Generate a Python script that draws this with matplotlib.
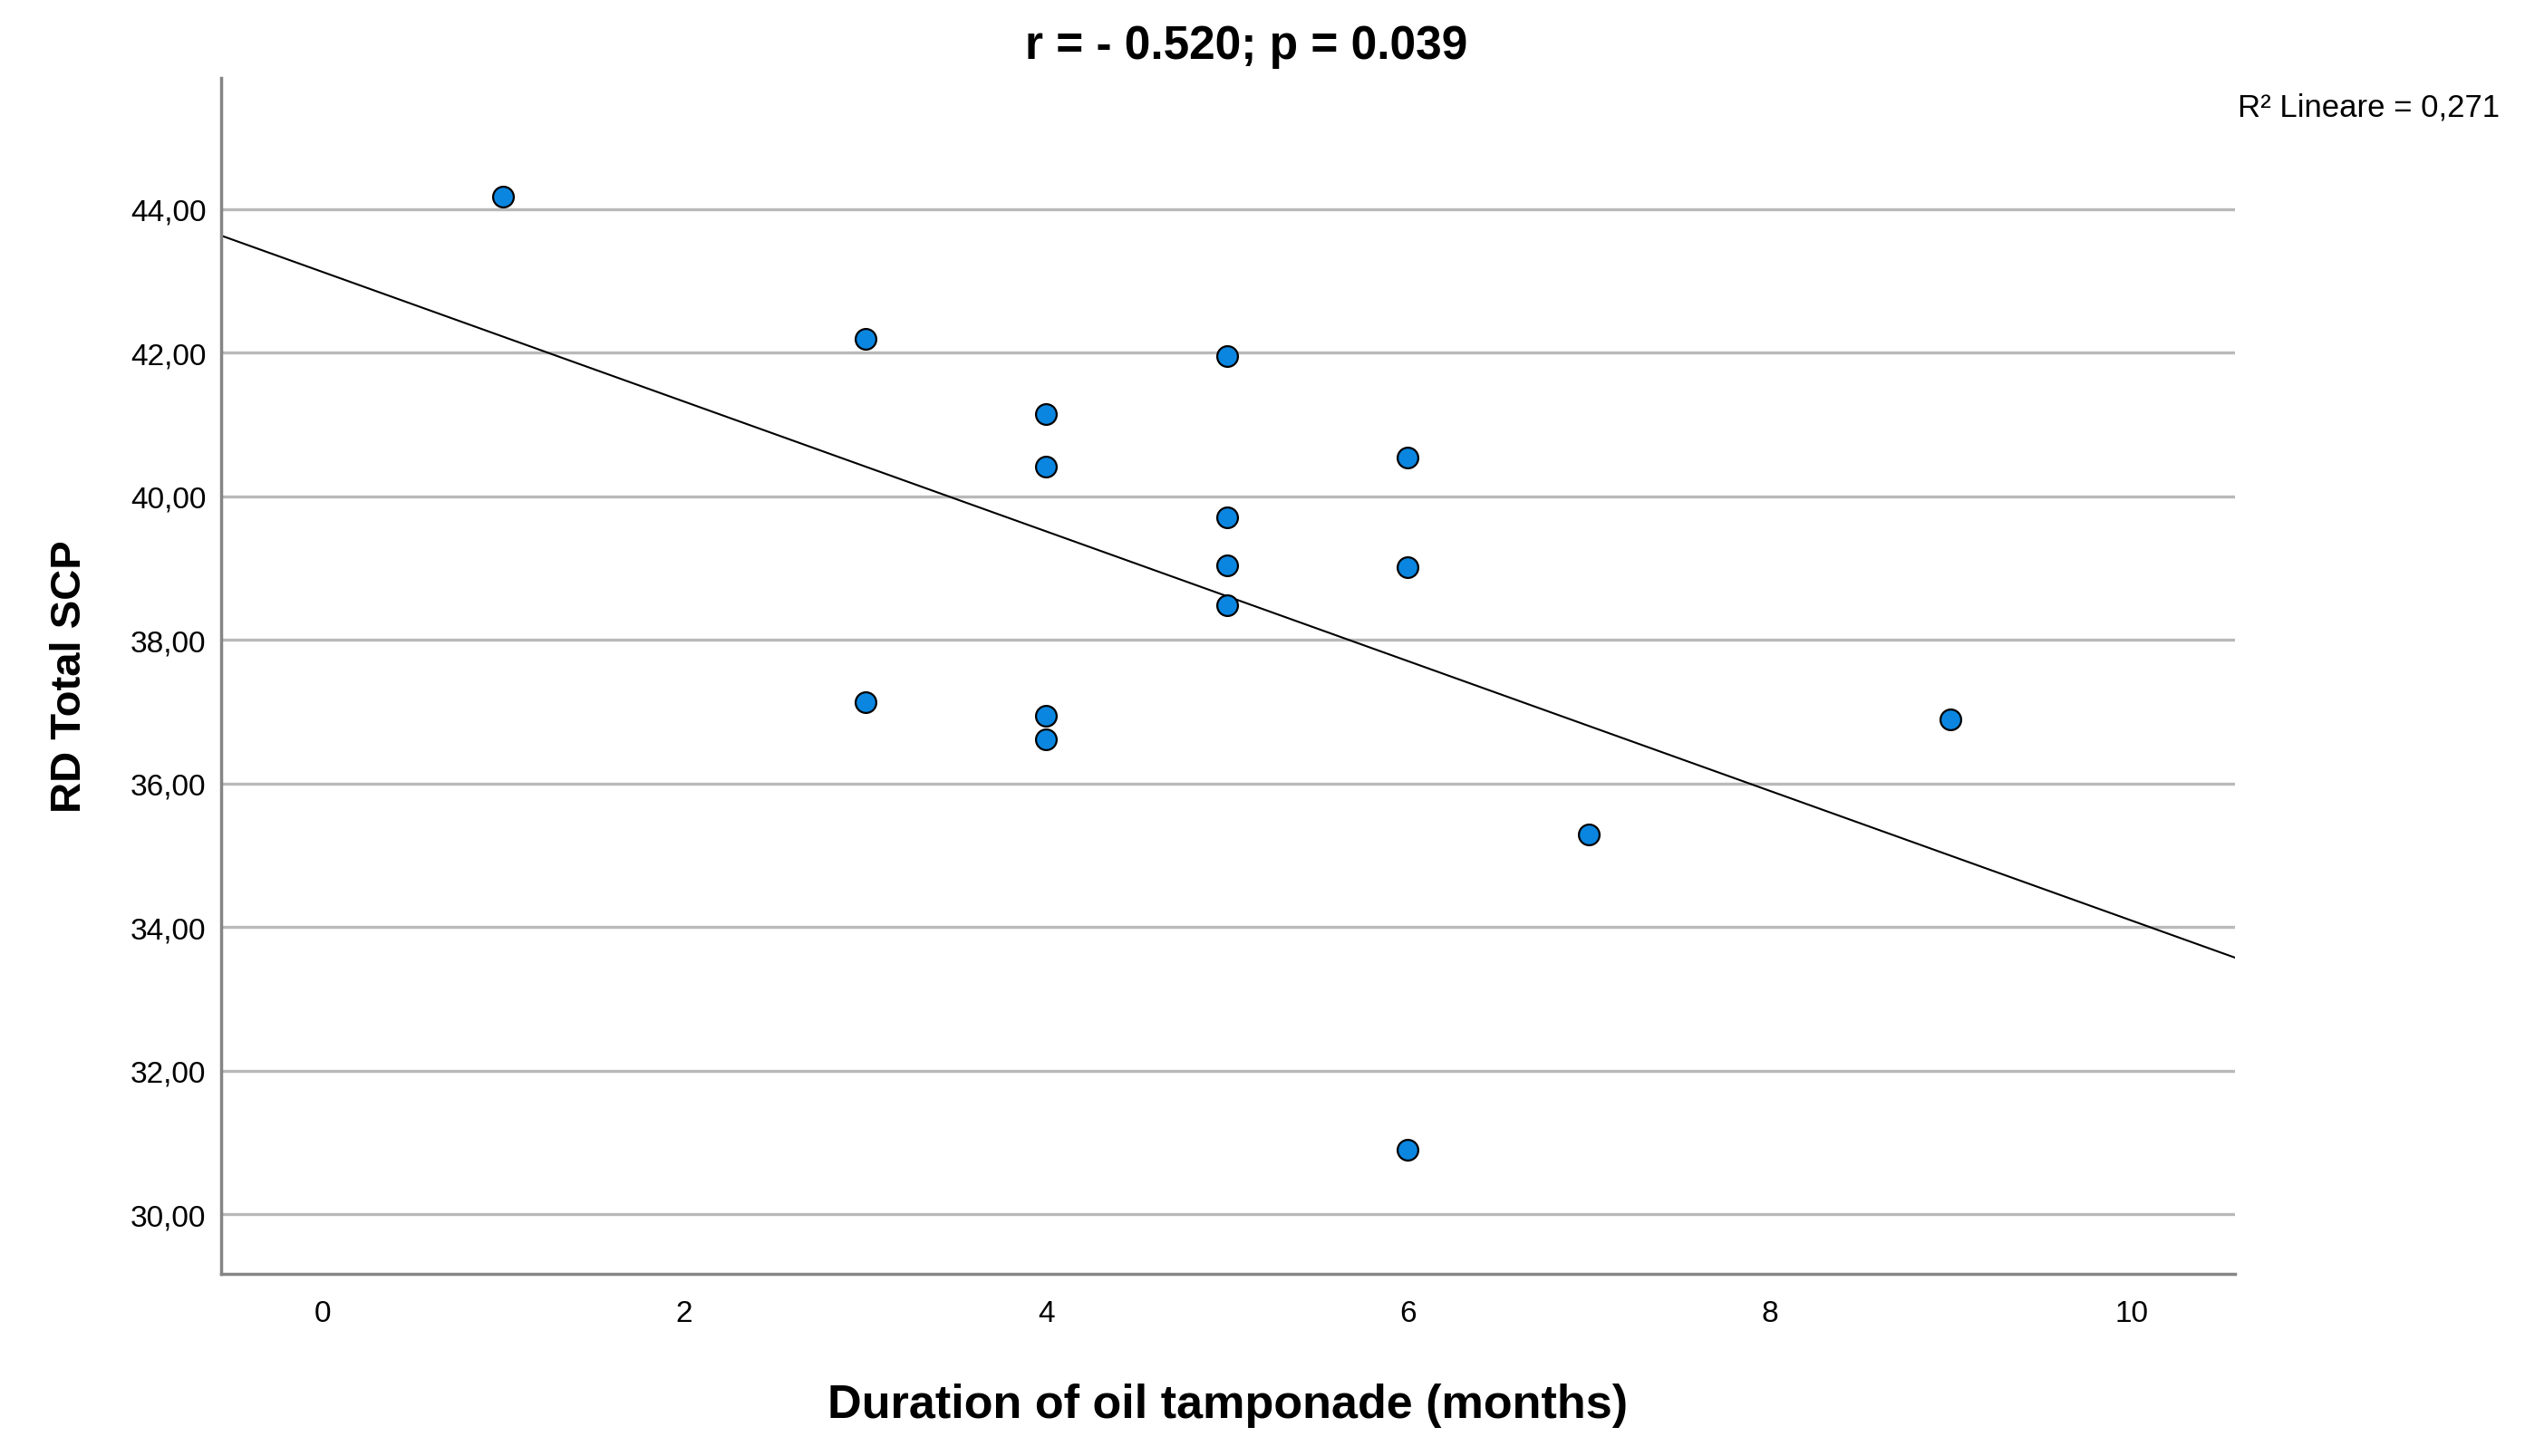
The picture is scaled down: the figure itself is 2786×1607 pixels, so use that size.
import numpy as np
import matplotlib
matplotlib.use("Agg")
from matplotlib import pyplot as plt
from matplotlib.ticker import FuncFormatter

# ---- data
duration = [1, 3, 3, 4, 4, 4, 4, 5, 5, 5, 5, 6, 6, 6, 7, 9]
rd_scp = [44.18, 42.20, 37.13, 41.15, 40.41, 36.95, 36.62, 41.96,
          39.71, 39.04, 38.48, 40.54, 39.02, 30.90, 35.29, 36.89]
x_ticks = [0, 2, 4, 6, 8, 10]
y_ticks = [30, 32, 34, 36, 38, 40, 42, 44]
title_txt = "r = - 0.520; p = 0.039"
r2_txt = "R\u00b2 Lineare = 0,271"

plt.rcParams['font.family'] = ['Liberation Sans', 'DejaVu Sans']

fig = plt.figure(figsize=(27.86, 16.08), dpi=100)
ax = fig.add_axes([0.0876, 0.125, 0.885 - 0.0876, 0.9459 - 0.125])

xlo, xhi = -0.56, 10.57
ylo, yhi = 29.17, 45.83
ax.set_xlim(xlo, xhi)
ax.set_ylim(ylo, yhi)

# grid lines only on y
for v in y_ticks:
    ax.axhline(v, color='#b9b9b9', lw=2.4, zorder=1)

# fit line across the whole x range
slope, icpt = np.polyfit(duration, rd_scp, 1)
xs = np.array([xlo, xhi])
ax.plot(xs, slope * xs + icpt, color='black', lw=1.5, zorder=2)

ax.scatter(duration, rd_scp, s=270, color='#0a86e0', edgecolor='black',
           linewidth=1.6, zorder=3)

ax.set_xticks(x_ticks)
ax.set_yticks(y_ticks)
ax.yaxis.set_major_formatter(FuncFormatter(lambda v, p: f"{v:.2f}".replace('.', ',')))
ax.tick_params(axis='both', length=0, labelsize=24)
ax.tick_params(axis='x', pad=20)
ax.tick_params(axis='y', pad=12)

for s in ['top', 'right']:
    ax.spines[s].set_visible(False)
for s in ['left', 'bottom']:
    ax.spines[s].set_color('#858585')
    ax.spines[s].set_linewidth(2.5)

ax.set_xlabel("Duration of oil tamponade (months)", fontsize=37.5, fontweight='bold',
              labelpad=44)
ax.set_ylabel("RD Total SCP", fontsize=34, fontweight='bold', labelpad=32)

fig.text(0.4935, 0.968, title_txt, fontsize=37, fontweight='bold',
         ha='center', va='center')
fig.text(0.990, 0.920, r2_txt, fontsize=25, ha='right', va='baseline')

fig.savefig("out.png", dpi=100, facecolor='white')
